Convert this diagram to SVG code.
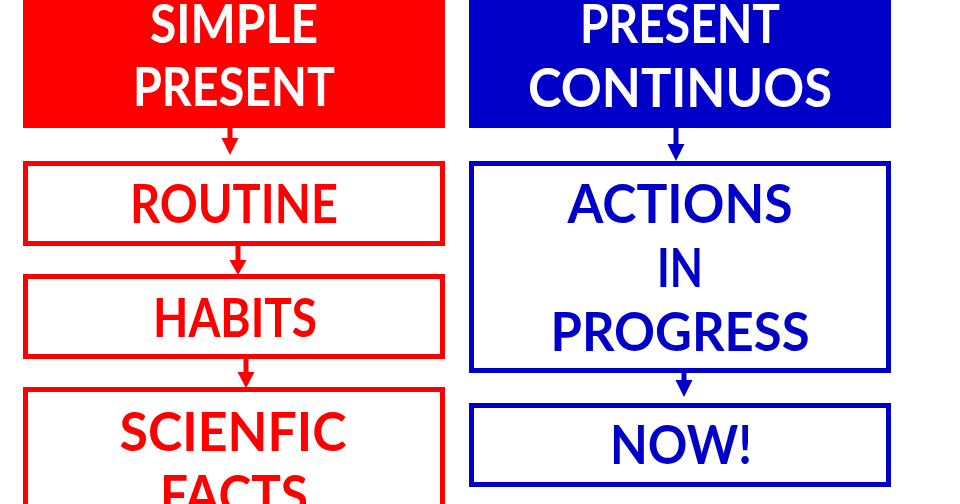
<svg xmlns="http://www.w3.org/2000/svg" width="960" height="504" viewBox="0 0 960 504">
  <style>
    .lbl { font-family: "Lato", "Liberation Sans", Arial, sans-serif; font-weight: bold; font-size: 54px; text-anchor: middle; }
    .red { fill: #FF0000; }
    .blue { fill: #0000C8; }
    .white { fill: #FFFFFF; }
    .rbox { fill: #FFFFFF; stroke: #FF0000; stroke-width: 5; }
    .bbox { fill: #FFFFFF; stroke: #0000C8; stroke-width: 5; }
    .rline { stroke: #FF0000; stroke-width: 5; fill: none; }
    .bline { stroke: #0000C8; stroke-width: 5; fill: none; }
  </style>
  <rect x="0" y="0" width="960" height="504" fill="#FFFFFF"/>

  <g id="simple-present">
    <rect x="23" y="0" width="422" height="128" class="red"/>
    <text x="234" y="43" class="lbl white" textLength="168" lengthAdjust="spacingAndGlyphs">SIMPLE</text>
    <text x="234" y="106" class="lbl white" textLength="202" lengthAdjust="spacingAndGlyphs">PRESENT</text>
  </g>
  <g id="routine">
    <rect x="25.5" y="163.5" width="417" height="80" class="rbox"/>
    <text x="234" y="223" class="lbl red" textLength="208" lengthAdjust="spacingAndGlyphs">ROUTINE</text>
  </g>
  <g id="habits">
    <rect x="25.5" y="276.5" width="417" height="80" class="rbox"/>
    <text x="235" y="337" class="lbl red" textLength="164" lengthAdjust="spacingAndGlyphs">HABITS</text>
  </g>
  <g id="scientific-facts">
    <rect x="25.5" y="389.5" width="417" height="140" class="rbox"/>
    <text x="233" y="451" class="lbl red" textLength="227" lengthAdjust="spacingAndGlyphs">SCIENFIC</text>
    <text x="234" y="514" class="lbl red" textLength="148" lengthAdjust="spacingAndGlyphs">FACTS</text>
  </g>

  <g id="present-continuous">
    <rect x="469" y="0" width="422" height="128" class="blue"/>
    <text x="680" y="43" class="lbl white" textLength="200" lengthAdjust="spacingAndGlyphs">PRESENT</text>
    <text x="680" y="107" class="lbl white" textLength="304" lengthAdjust="spacingAndGlyphs">CONTINUOS</text>
  </g>
  <g id="actions-in-progress">
    <rect x="471.5" y="163.5" width="417" height="207" class="bbox"/>
    <text x="680" y="223" class="lbl blue" textLength="225" lengthAdjust="spacingAndGlyphs">ACTIONS</text>
    <text x="680" y="287" class="lbl blue" textLength="46" lengthAdjust="spacingAndGlyphs">IN</text>
    <text x="680" y="351" class="lbl blue" textLength="259" lengthAdjust="spacingAndGlyphs">PROGRESS</text>
  </g>
  <g id="now">
    <rect x="471.5" y="405.5" width="417" height="79" class="bbox"/>
    <text x="681" y="464" class="lbl blue" textLength="142" lengthAdjust="spacingAndGlyphs">NOW!</text>
  </g>

  <g id="connectors">
    <line x1="230" y1="128" x2="230" y2="140" class="rline"/>
    <polygon points="221.5,138 238.5,138 230,155" class="red"/>
    <line x1="238" y1="246" x2="238" y2="262" class="rline"/>
    <polygon points="229.5,260 246.5,260 238,275" class="red"/>
    <line x1="246" y1="359" x2="246" y2="374" class="rline"/>
    <polygon points="237.5,372 254.5,372 246,388" class="red"/>
    <line x1="676" y1="128" x2="676" y2="146" class="bline"/>
    <polygon points="667.5,144 684.5,144 676,161" class="blue"/>
    <line x1="684" y1="373" x2="684" y2="382" class="bline"/>
    <polygon points="675.5,380 692.5,380 684,397" class="blue"/>
  </g>
</svg>
